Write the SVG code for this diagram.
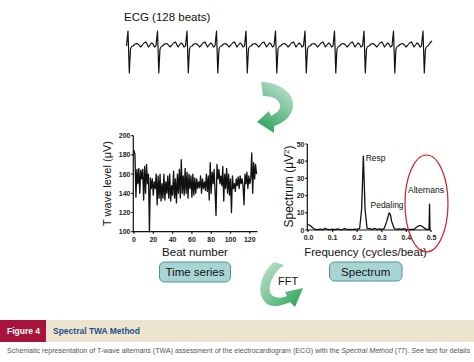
<svg xmlns="http://www.w3.org/2000/svg" width="474" height="362" viewBox="0 0 474 362">
<style>
text{font-family:"Liberation Sans",Arial,sans-serif;fill:#111}
.tick{font-size:7px;font-weight:bold;fill:#222}
.ax{stroke:#111;stroke-width:1.2;fill:none}
.trace{fill:none;stroke:#111;stroke-width:1.3;stroke-linejoin:round;vector-effect:non-scaling-stroke}
.ecg{fill:none;stroke:#111;stroke-width:1.2;stroke-linejoin:round}
.lbl{font-size:11.5px}
.box{fill:#a9d4d5;stroke:#4f948f;stroke-width:1}
.ann{font-size:8.5px}
</style>
<defs>
<path id="beat" d="M-1.5,46 L0,31 L1.3,73 L2.4,50 Q3,46 5,46 L7,44 L9,43.5 L11,45 L12.5,47 L14,45.5 L16,43 L18,42 L19.5,45 L20.5,47 L22,45 L23.5,43 L25,44 L26.5,47 L28,46"/>
<linearGradient id="g1" x1="0.6" y1="0" x2="0.1" y2="1">
<stop offset="0" stop-color="#b4dcc8"/>
<stop offset="0.5" stop-color="#6cbf8e"/>
<stop offset="1" stop-color="#26a050"/>
</linearGradient>
<linearGradient id="g2" x1="0" y1="0" x2="1" y2="1">
<stop offset="0" stop-color="#c4e3d4"/>
<stop offset="0.5" stop-color="#7cc69a"/>
<stop offset="1" stop-color="#22a04c"/>
</linearGradient>
</defs>

<g id="ecg">
<text x="124" y="20.5" class="lbl">ECG (128 beats)</text>
<use href="#beat" class="ecg" transform="translate(128,0)"/>
<use href="#beat" class="ecg" transform="translate(157.5,0)"/>
<use href="#beat" class="ecg" transform="translate(187,0)"/>
<use href="#beat" class="ecg" transform="translate(216.5,0)"/>
<use href="#beat" class="ecg" transform="translate(246,0)"/>
<use href="#beat" class="ecg" transform="translate(275.5,0)"/>
<use href="#beat" class="ecg" transform="translate(305,0)"/>
<use href="#beat" class="ecg" transform="translate(334.5,0)"/>
<use href="#beat" class="ecg" transform="translate(364,0)"/>
<use href="#beat" class="ecg" transform="translate(393.5,0)"/>
<path class="ecg" d="M421.5,46 L423,31 L424.3,73 L425.4,50 Q426,46 428,46 L430,43 L432,41"/>
</g>

<g id="connectors">
<path id="arrow-down" fill="url(#g1)" d="M261,82 C278,82 294,92 293,106 C292,116 284,123 274,126 L274,133 L257,122 L269,111 L271,116 C277,113 281,109 280,105 C279,99 272,96 263,96 Z"/>
<g id="arrow-fft">
<path fill="url(#g2)" d="M274,262 C262,272 256,290 264,301 C270,309 282,306 290,302 L295,307 L303,288 L285,292 L287,296 C280,299 272,298 270,292 C268,284 274,272 284,265 Z"/>
<text x="278" y="285" font-size="11px">FFT</text>
</g>
</g>

<g id="timeseries">
<path class="ax" d="M133.3,135.7 V231.7 H257.5"/>
<path class="ax" d="M131.3,135.7 H133.3 M131.3,154.9 H133.3 M131.3,174.1 H133.3 M131.3,193.3 H133.3 M131.3,212.5 H133.3 M131.3,231.7 H133.3 M134,231.7 V233.7 M153.3,231.7 V233.7 M172.6,231.7 V233.7 M191.9,231.7 V233.7 M211.2,231.7 V233.7 M230.5,231.7 V233.7 M249.8,231.7 V233.7"/>
<g class="tick" text-anchor="end">
<text x="130.5" y="138.2" class="tick">200</text>
<text x="130.5" y="157.4" class="tick">180</text>
<text x="130.5" y="176.6" class="tick">160</text>
<text x="130.5" y="195.8" class="tick">140</text>
<text x="130.5" y="215" class="tick">120</text>
<text x="130.5" y="234.2" class="tick">100</text>
</g>
<g text-anchor="middle">
<text x="134" y="241.5" class="tick">0</text>
<text x="153.3" y="241.5" class="tick">20</text>
<text x="172.6" y="241.5" class="tick">40</text>
<text x="191.9" y="241.5" class="tick">60</text>
<text x="211.2" y="241.5" class="tick">80</text>
<text x="230.5" y="241.5" class="tick">100</text>
<text x="249.8" y="241.5" class="tick">120</text>
</g>
<text transform="translate(111,183.5) rotate(-90)" text-anchor="middle" font-size="11px">T wave level (μV)</text>
<text x="195" y="256" text-anchor="middle" class="lbl">Beat number</text>
<polyline class="trace" transform="translate(134,327.7) scale(0.965,-0.96)" points="0,185 1,180 2,136 3,165 4,150 5,166 6,140 7,164 8,155 9,165 10,133 11,168 12,140 13,170 14,150 15,160 16,100 17,156 18,145 19,155 20,138 21,152 22,145 23,160 24,128 25,158 26,135 27,160 28,132 29,150 30,135 31,160 32,133 33,152 34,140 35,158 36,135 37,160 38,132 39,148 40,138 41,163 42,135 43,155 44,130 45,160 46,140 47,165 48,135 49,175 50,140 51,158 52,138 53,166 54,140 55,162 56,135 57,160 58,145 59,158 60,136 61,160 62,138 63,156 64,140 65,155 66,145 67,152 68,146 69,158 70,140 71,155 72,145 73,152 74,143 75,160 76,142 77,158 78,133 79,172 80,140 81,162 82,150 83,165 84,142 85,117 86,170 87,155 88,165 89,150 90,158 91,148 92,168 93,132 94,160 95,145 96,166 97,140 98,160 99,138 100,155 101,120 102,158 103,145 104,150 105,142 106,155 107,148 108,157 109,145 110,158 111,150 112,155 113,148 114,128 115,160 116,150 117,162 118,145 119,158 120,150 121,155 122,182 123,140 124,172 125,155 126,170 127,160"/>
<rect class="box" x="159.5" y="262" width="71" height="20" rx="5"/>
<text x="195" y="276" text-anchor="middle" class="lbl">Time series</text>
</g>

<g id="spectrum">
<path class="ax" d="M307.3,144 V230 H431"/>
<path class="ax" d="M305.3,144 H307.3 M305.3,161.2 H307.3 M305.3,178.4 H307.3 M305.3,195.6 H307.3 M305.3,212.8 H307.3 M305.3,230 H307.3 M308,230 V232 M332.6,230 V232 M357.2,230 V232 M381.8,230 V232 M406.4,230 V232 M431,230 V232"/>
<g text-anchor="end">
<text x="304.5" y="146.5" class="tick">50</text>
<text x="304.5" y="163.7" class="tick">40</text>
<text x="304.5" y="180.9" class="tick">30</text>
<text x="304.5" y="198.1" class="tick">20</text>
<text x="304.5" y="215.3" class="tick">10</text>
<text x="304.5" y="232.5" class="tick">0</text>
</g>
<g text-anchor="middle">
<text x="308.5" y="240" class="tick">0.0</text>
<text x="332.6" y="240" class="tick">0.1</text>
<text x="357.2" y="240" class="tick">0.2</text>
<text x="381.8" y="240" class="tick">0.3</text>
<text x="406.4" y="240" class="tick">0.4</text>
<text x="431.5" y="240" class="tick">0.5</text>
</g>
<text transform="translate(292.5,186.5) rotate(-90)" text-anchor="middle" font-size="12px">Spectrum (μV<tspan font-size="8px" dy="-4">2</tspan><tspan dy="4">)</tspan></text>
<text x="365.5" y="256" text-anchor="middle" class="lbl">Frequency (cycles/beat)</text>
<polyline class="trace" transform="translate(308,230) scale(246,-1.72)" points="0,3.2 0.01,2.5 0.02,1.2 0.03,0.3 0.04,0.2 0.05,0.5 0.06,0.2 0.07,0.9 0.08,0.3 0.09,0.2 0.1,0.5 0.11,0.2 0.12,0.6 0.13,0.2 0.14,0.3 0.15,0.8 0.16,0.2 0.17,0.4 0.18,0.2 0.19,0.5 0.2,0.4 0.21,1 0.218,12 0.225,43 0.232,12 0.24,1 0.25,0.8 0.26,0.3 0.27,0.9 0.28,0.3 0.29,0.6 0.3,0.4 0.31,1 0.32,5 0.33,10 0.335,9 0.34,5 0.35,1 0.36,0.3 0.37,0.6 0.38,0.3 0.39,0.8 0.4,0.4 0.41,0.2 0.42,0.4 0.43,0.3 0.44,1.5 0.45,2.5 0.46,2.5 0.47,1.5 0.48,0.5 0.492,0.3 0.494,15 0.496,0.2"/>
<text x="365.7" y="160.5" class="ann">Resp</text>
<text x="370.5" y="207.5" class="ann">Pedaling</text>
<text x="408" y="192.5" class="ann">Alternans</text>
<ellipse cx="426.5" cy="203.5" rx="21.5" ry="48.5" fill="none" stroke="#c1272d" stroke-width="1.2"/>
<rect class="box" x="329.5" y="262" width="72.5" height="19" rx="5"/>
<text x="365.7" y="275.5" text-anchor="middle" class="lbl">Spectrum</text>
</g>

<g id="caption">
<rect x="0" y="320" width="474" height="22" fill="#ede4cf"/>
<rect x="0" y="320" width="46" height="22" fill="#a8133c"/>
<text x="7" y="334" font-size="8.5px" font-weight="bold" style="fill:#fff">Figure 4</text>
<text x="53" y="334" font-size="8.5px" font-weight="bold" textLength="87" lengthAdjust="spacingAndGlyphs" style="fill:#1e4f8a">Spectral TWA Method</text>
<text x="7" y="352.5" font-size="7.2px" textLength="463" lengthAdjust="spacingAndGlyphs" style="fill:#555">Schematic representation of T-wave alternans (TWA) assessment of the electrocardiogram (ECG) with the <tspan font-style="italic">Spectral Method</tspan> (77). <tspan font-style="italic">See</tspan> text for details</text>
</g>
</svg>
